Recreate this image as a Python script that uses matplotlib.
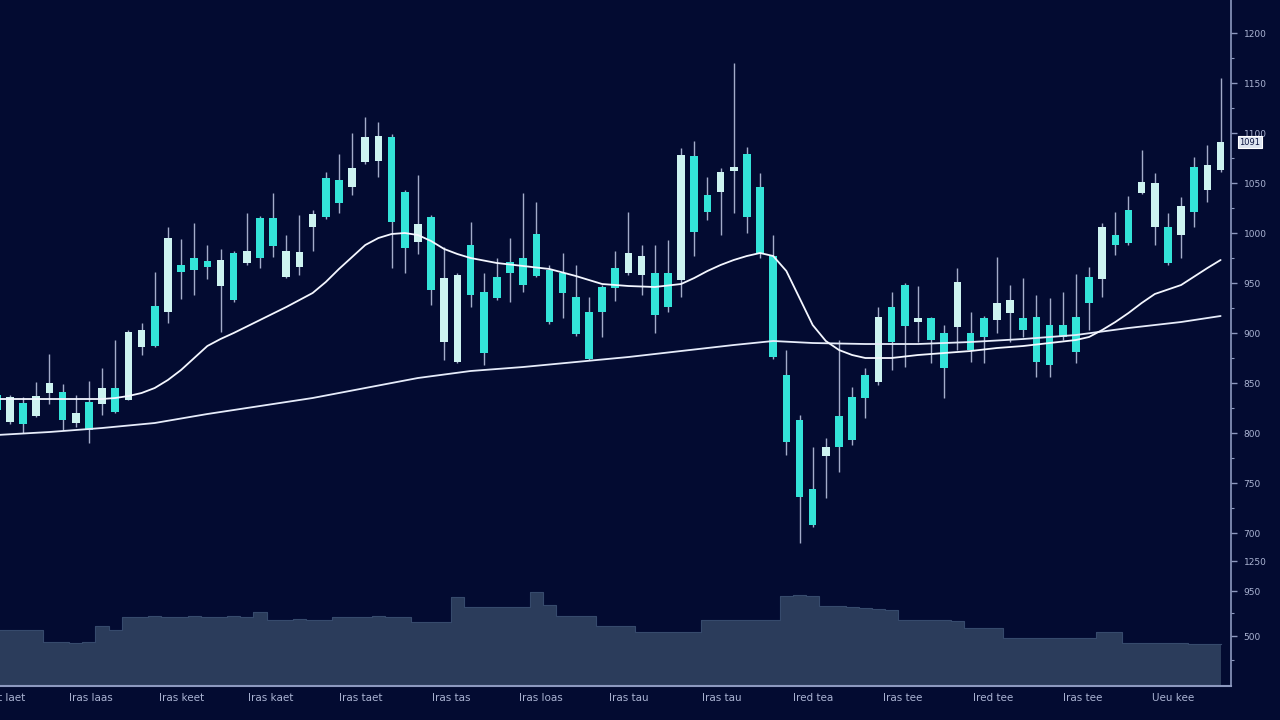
import matplotlib.pyplot as plt
from matplotlib.ticker import FixedLocator

# candles, one per session (price units)
opens = [838, 811, 830, 817, 840, 841, 810, 831, 829, 845,
         833, 886, 927, 921, 968, 975, 972, 947, 980, 970,
         1015, 1015, 956, 966, 1006, 1055, 1053, 1046, 1071, 1072,
         1096, 1041, 991, 1016, 891, 871, 988, 941, 956, 971,
         975, 999, 963, 960, 936, 921, 946, 965, 960, 958,
         960, 960, 953, 1077, 1038, 1041, 1062, 1079, 1046, 977,
         858, 813, 744, 777, 817, 836, 858, 851, 926, 948,
         911, 915, 900, 906, 900, 915, 913, 920, 915, 916,
         908, 908, 916, 956, 954, 998, 1023, 1040, 1006, 1006,
         998, 1066, 1043, 1063]
highs = [843, 838, 836, 851, 879, 849, 838, 852, 865, 893,
         903, 910, 961, 1006, 994, 1010, 988, 984, 982, 1020,
         1017, 1040, 998, 1018, 1023, 1061, 1079, 1100, 1116, 1111,
         1099, 1043, 1058, 1018, 986, 960, 1011, 960, 975, 995,
         1040, 1031, 968, 980, 968, 936, 948, 982, 1021, 988,
         988, 993, 1085, 1092, 1056, 1065, 1170, 1086, 1060, 998,
         883, 818, 786, 795, 893, 846, 865, 926, 941, 950,
         947, 916, 908, 965, 921, 917, 976, 948, 955, 938,
         935, 941, 959, 966, 1010, 1021, 1037, 1083, 1060, 1020,
         1036, 1076, 1088, 1155]
lows = [819, 809, 800, 816, 829, 803, 806, 790, 818, 820,
        833, 878, 886, 910, 934, 938, 954, 901, 931, 968,
        965, 976, 955, 958, 982, 1014, 1020, 1038, 1069, 1056,
        965, 960, 979, 928, 873, 870, 926, 868, 933, 931,
        941, 956, 909, 915, 897, 873, 896, 932, 958, 938,
        900, 921, 936, 977, 1013, 998, 1020, 1000, 975, 874,
        778, 690, 706, 735, 761, 788, 815, 848, 863, 866,
        891, 870, 835, 883, 871, 870, 900, 891, 896, 856,
        856, 893, 870, 903, 936, 978, 988, 1039, 988, 968,
        975, 1006, 1031, 1061]
closes = [823, 836, 809, 837, 850, 813, 820, 803, 845, 821,
          901, 903, 887, 995, 961, 963, 966, 973, 933, 982,
          975, 987, 982, 981, 1019, 1016, 1030, 1065, 1096, 1097,
          1011, 985, 1009, 943, 955, 958, 938, 880, 935, 960,
          948, 957, 911, 940, 899, 874, 921, 945, 980, 977,
          918, 926, 1078, 1001, 1021, 1061, 1066, 1016, 980, 876,
          791, 736, 708, 786, 786, 793, 835, 916, 891, 907,
          915, 893, 865, 951, 883, 896, 930, 933, 903, 871,
          868, 896, 881, 930, 1006, 988, 990, 1051, 1050, 970,
          1027, 1021, 1068, 1091]
volumes = [560, 560, 560, 560, 440, 440, 430, 440, 600, 560,
           690, 690, 700, 690, 690, 700, 690, 690, 700, 690,
           740, 660, 660, 670, 660, 660, 690, 690, 690, 700,
           690, 690, 640, 640, 640, 890, 790, 790, 790, 790,
           790, 940, 810, 700, 700, 700, 600, 600, 600, 540,
           540, 540, 540, 540, 660, 660, 660, 660, 660, 660,
           900, 910, 900, 800, 800, 790, 780, 770, 760, 660,
           660, 660, 660, 650, 580, 580, 580, 480, 480, 480,
           480, 480, 480, 480, 540, 540, 430, 430, 430, 430,
           430, 420, 420, 420]

# moving averages
ma_fast_idx = [0, 4, 8, 9, 10, 11, 12, 13, 14, 15, 16, 17, 18, 20, 22, 24, 25, 26,
               27, 28, 29, 30, 31, 32, 33, 34, 35, 36, 38, 40, 42, 44, 46, 48, 50,
               52, 53, 54, 55, 56, 57, 58, 59, 60, 61, 62, 63, 64, 65, 66, 68, 70,
               72, 74, 76, 78, 80, 82, 83, 84, 85, 86, 87, 88, 90, 92, 93]
ma_fast = [834, 834, 834, 835, 837, 840, 845, 853, 863, 875, 887, 894, 900, 913, 926,
           940, 951, 964, 976, 988, 995, 999, 1000, 998, 992, 984, 979, 975, 970, 967,
           964, 957, 949, 947, 946, 949, 955, 962, 968, 973, 977, 980, 977, 962, 935,
           908, 892, 883, 878, 875, 875, 878, 880, 882, 885, 887, 890, 893, 896, 903,
           911, 920, 930, 939, 948, 965, 973]
ma_slow_idx = [0, 4, 8, 12, 16, 20, 24, 28, 32, 36, 40, 44, 48, 52, 56, 59, 62, 66,
               70, 74, 78, 82, 86, 90, 93]
ma_slow = [798, 801, 805, 810, 819, 827, 835, 845, 855, 862, 866, 871, 876, 882, 888,
           892, 890, 889, 889, 891, 894, 898, 905, 911, 917]

price_ticks = [1200, 1150, 1100, 1050, 1000, 950, 900, 850, 800, 750, 700]
price_minor = [1175, 1125, 1075, 1025, 975, 925, 875, 825, 775, 725]
vol_ticks = [500, 950, 1250]
vol_minor = [260, 730]
date_pos = [1.16, 7.16, 14.07, 20.84, 27.67, 34.51, 41.35, 48.04, 55.11, 62.02,
            68.86, 75.70, 82.54, 89.38]
date_labels = ["t laet", "Iras laas", "Iras keet", "Iras kaet", "Iras taet",
               "Iras tas", "Iras loas", "Iras tau", "Iras tau", "Ired tea",
               "Iras tee", "Ired tee", "Iras tee", "Ueu kee"]

bg = "#030b31"
cyan = "#33e3d8"
pale = "#cdf3f0"
wick = "#a3acca"
axis_col = "#8d99bf"
label_col = "#aab3d2"

fig = plt.figure(figsize=(12.8, 7.2), dpi=100)
fig.patch.set_facecolor(bg)
pos = [0.0, 0.0472, 1231 / 1280, 1 - 0.0472]
xlim = (0.243, 93.79)

# volume panel underneath
axv = fig.add_axes(pos)
axv.set_facecolor(bg)
x = list(range(len(volumes)))
axv.fill_between(x, 0, volumes, step="mid", color="#2b3c5b", lw=0)
axv.step(x, volumes, where="mid", color="#364a6c", lw=0.8)
axv.set_xlim(*xlim)
axv.set_ylim(0, 6860)
axv.yaxis.tick_right()
axv.yaxis.set_major_locator(FixedLocator(vol_ticks))
axv.yaxis.set_minor_locator(FixedLocator(vol_minor))
axv.set_yticklabels([str(v) for v in vol_ticks])
axv.tick_params(axis="y", which="major", colors=axis_col, labelcolor=label_col,
                length=4, width=1, pad=5, labelsize=6.5)
axv.tick_params(axis="y", which="minor", colors=axis_col, length=2.5, width=0.8)
axv.set_xticks([])
for s in axv.spines.values():
    s.set_visible(False)

# price panel
ax = fig.add_axes(pos)
ax.patch.set_alpha(0)
up = [c >= o for o, c in zip(opens, closes)]
colors = [pale if u else cyan for u in up]
ax.vlines(x, lows, highs, color=wick, lw=1.0, zorder=2)
bottoms = [min(o, c) for o, c in zip(opens, closes)]
heights = [max(abs(c - o), 3) for o, c in zip(opens, closes)]
ax.bar(x, heights, bottom=bottoms, width=0.58, color=colors, lw=0, zorder=3)

ax.plot(ma_slow_idx, ma_slow, color="#e6ecfa", lw=1.3, zorder=4, solid_capstyle="round")
ax.plot(ma_fast_idx, ma_fast, color="#f4f7ff", lw=1.3, zorder=4,
        solid_capstyle="round", solid_joinstyle="round")

ax.set_xlim(*xlim)
ax.set_ylim(547, 1233)
ax.yaxis.tick_right()
ax.yaxis.set_major_locator(FixedLocator(price_ticks))
ax.yaxis.set_minor_locator(FixedLocator(price_minor))
ax.set_yticklabels([str(v) for v in price_ticks])
ax.tick_params(axis="y", which="major", colors=axis_col, labelcolor=label_col,
               length=4, width=1, pad=5, labelsize=6.5)
ax.tick_params(axis="y", which="minor", colors=axis_col, length=2.5, width=0.8)
ax.set_xticks(date_pos)
ax.set_xticklabels(date_labels)
ax.tick_params(axis="x", length=0, pad=5, labelsize=7.5, labelcolor=label_col)

for name in ["top", "left"]:
    ax.spines[name].set_visible(False)
ax.spines["right"].set_color(axis_col)
ax.spines["bottom"].set_color(axis_col)
ax.spines["right"].set_linewidth(1.2)
ax.spines["bottom"].set_linewidth(1.5)

# last price tag
ax.annotate(str(closes[-1]), xy=(1.0, closes[-1]), xycoords=("axes fraction", "data"),
            xytext=(6, 0), textcoords="offset points", va="center", ha="left",
            fontsize=6, color="#0b1440",
            bbox=dict(boxstyle="square,pad=0.15", fc="#dde4f0", ec="white", lw=0.8))

fig.savefig("out.png", dpi=100, facecolor=bg)
